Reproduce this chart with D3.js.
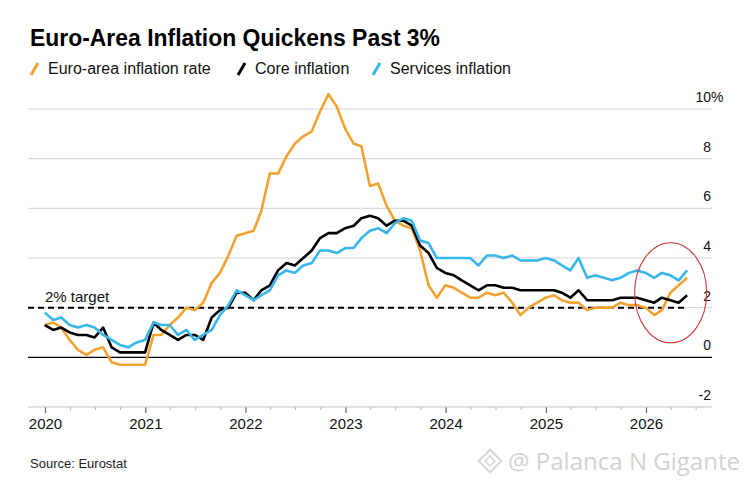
<!DOCTYPE html>
<html>
<head>
<meta charset="utf-8">
<script src="https://cdn.jsdelivr.net/npm/d3@7"></script>
<style>
	body { margin: 0; background: #fff; }
	svg { display: block; font-family: 'Liberation Sans', Arial, sans-serif; }
</style>
</head>
<body>
<div class="chart"></div>
<script>
const WIDTH = 747;
const HEIGHT = 484;
const PLOT = { left: 28, right: 712, top: 109, zero: 357.3, bottom: 407 };

// monthly readings, Dec 2019 .. May 2026 (plotted at month end)
const START_MONTH = new Date(2019, 11, 1);

const headline = [
	1.3, 1.4, 1.2, 0.7, 0.3, 0.1, 0.3, 0.4, -0.2, -0.3, -0.3, -0.3, -0.3,
	0.9, 0.9, 1.3, 1.6, 2.0, 1.9, 2.2, 3.0, 3.4, 4.1, 4.9, 5.0,
	5.1, 5.9, 7.4, 7.4, 8.1, 8.6, 8.9, 9.1, 9.9, 10.6, 10.1, 9.2,
	8.6, 8.5, 6.9, 7.0, 6.1, 5.5, 5.3, 5.2, 4.3, 2.9, 2.4, 2.9,
	2.8, 2.6, 2.4, 2.4, 2.6, 2.5, 2.6, 2.2, 1.7, 2.0, 2.2, 2.4,
	2.5, 2.3, 2.2, 2.2, 1.9, 2.0, 2.0, 2.0, 2.2, 2.1, 2.1, 2.0,
	1.7, 1.9, 2.6, 2.9, 3.2
];

const core = [
	1.3, 1.1, 1.2, 1.0, 0.9, 0.9, 0.8, 1.2, 0.4, 0.2, 0.2, 0.2, 0.2,
	1.4, 1.1, 0.9, 0.7, 0.9, 0.9, 0.7, 1.6, 1.9, 2.0, 2.6, 2.6,
	2.3, 2.7, 2.9, 3.5, 3.8, 3.7, 4.0, 4.3, 4.8, 5.0, 5.0, 5.2,
	5.3, 5.6, 5.7, 5.6, 5.3, 5.5, 5.5, 5.3, 4.5, 4.2, 3.6, 3.4,
	3.3, 3.1, 2.9, 2.7, 2.9, 2.9, 2.8, 2.8, 2.7, 2.7, 2.7, 2.7,
	2.7, 2.6, 2.4, 2.7, 2.3, 2.3, 2.3, 2.3, 2.4, 2.4, 2.4, 2.3,
	2.2, 2.4, 2.3, 2.2, 2.5
];

const services = [
	1.8, 1.5, 1.6, 1.3, 1.2, 1.3, 1.2, 0.9, 0.7, 0.5, 0.4, 0.6, 0.7,
	1.4, 1.3, 1.3, 0.9, 1.1, 0.7, 0.9, 1.1, 1.7, 2.1, 2.7, 2.5,
	2.3, 2.5, 2.7, 3.3, 3.5, 3.4, 3.7, 3.8, 4.3, 4.3, 4.2, 4.4,
	4.4, 4.8, 5.1, 5.2, 5.0, 5.4, 5.6, 5.5, 4.7, 4.6, 4.0, 4.0,
	4.0, 4.0, 4.0, 3.7, 4.1, 4.1, 4.0, 4.1, 3.9, 3.9, 3.9, 4.0,
	3.9, 3.7, 3.5, 4.0, 3.2, 3.3, 3.2, 3.1, 3.2, 3.4, 3.5, 3.4,
	3.2, 3.4, 3.3, 3.1, 3.5
];

const seriesNames = ['Euro-area inflation rate', 'Core inflation', 'Services inflation'];
const seriesColors = ['#f2a230', '#000000', '#36b6ea'];
const yTicks = [-2, 0, 2, 4, 6, 8, 10];
const xYears = [2020, 2021, 2022, 2023, 2024, 2025, 2026];
const TARGET = 2;

const svg = d3
	.select('.chart')
	.append('svg')
	.attr('width', WIDTH)
	.attr('height', HEIGHT);

drawChart();

function drawChart() {
	const x = d3
		.scaleTime()
		.domain([new Date(2020, 0, 1), new Date(2026, 0, 1)])
		.range([45, 646]);

	const y = d3
		.scaleLinear()
		.domain([0, 10])
		.range([PLOT.zero, PLOT.top]);

	const monthEnd = i => new Date(START_MONTH.getFullYear(), START_MONTH.getMonth() + i + 1, 0);

	const series = [headline, core, services].map(function(vals, k) {
		return {
			name: seriesNames[k],
			color: seriesColors[k],
			points: vals.map((v, i) => ({ date: monthEnd(i), value: v }))
		};
	});

	// title + legend
	svg.append('text')
		.attr('x', 30)
		.attr('y', 46)
		.attr('textLength', 410)
		.attr('lengthAdjust', 'spacingAndGlyphs')
		.style('font-size', '23px')
		.style('font-weight', 'bold')
		.style('fill', '#000')
		.text('Euro-Area Inflation Quickens Past 3%');

	const legendX = [30, 237, 372];
	const legend = svg
		.selectAll('.legend')
		.data(series)
		.enter()
		.append('g')
		.attr('class', 'legend')
		.attr('transform', (d, i) => `translate(${legendX[i]}, 0)`);

	legend.append('line')
		.attr('x1', 1)
		.attr('y1', 75)
		.attr('x2', 8)
		.attr('y2', 63)
		.attr('stroke', d => d.color)
		.attr('stroke-width', 3);

	legend.append('text')
		.attr('x', 18)
		.attr('y', 74)
		.style('font-size', '16px')
		.style('fill', '#111')
		.text(d => d.name);

	// gridlines
	svg.selectAll('.grid')
		.data(yTicks.filter(t => t > 0))
		.enter()
		.append('line')
		.attr('class', 'grid')
		.attr('x1', PLOT.left)
		.attr('x2', PLOT.right)
		.attr('y1', d => y(d))
		.attr('y2', d => y(d))
		.attr('stroke', '#d4d4d4')
		.attr('stroke-width', 1);

	// y labels on the right, sitting above their line
	svg.selectAll('.ylab')
		.data(yTicks)
		.enter()
		.append('text')
		.attr('class', 'ylab')
		.attr('x', PLOT.right - 1)
		.attr('y', d => y(d) - 7)
		.attr('text-anchor', 'end')
		.style('font-size', '14px')
		.style('fill', '#111')
		.text(d => d);

	svg.append('text')
		.attr('x', PLOT.right - 1)
		.attr('y', y(10) - 7)
		.style('font-size', '14px')
		.style('fill', '#111')
		.text('%');

	// x axis
	const minor = d3
		.timeMonth
		.every(3)
		.range(new Date(2019, 9, 1), new Date(2026, 9, 1))
		.filter(d => d.getMonth() !== 0 && x(d) > PLOT.left && x(d) < PLOT.right);

	svg.append('g')
		.attr('transform', `translate(0, ${PLOT.bottom})`)
		.call(d3.axisBottom(x).tickValues(minor).tickSize(3).tickFormat(''))
		.call(g => g.select('.domain').remove())
		.call(g => g.selectAll('line').attr('stroke', '#b5b5b5'));

	const xAxis = svg.append('g')
		.attr('id', 'x-axis')
		.attr('transform', `translate(0, ${PLOT.bottom})`)
		.call(
			d3.axisBottom(x)
				.tickValues(xYears.map(yr => new Date(yr, 0, 1)))
				.tickSize(6)
				.tickPadding(5)
				.tickFormat(d3.timeFormat('%Y'))
		);
	xAxis.select('.domain').remove();
	xAxis.selectAll('line').attr('stroke', '#666').attr('stroke-width', 1.2);
	xAxis.selectAll('text')
		.style('font-family', "'Liberation Sans', Arial, sans-serif")
		.style('font-size', '15px')
		.style('fill', '#111');

	svg.append('line')
		.attr('x1', PLOT.left)
		.attr('x2', PLOT.right)
		.attr('y1', y(-2))
		.attr('y2', y(-2))
		.attr('stroke', '#c4c4c4')
		.attr('stroke-width', 1);

	svg.append('line')
		.attr('x1', PLOT.left)
		.attr('x2', PLOT.right)
		.attr('y1', y(0))
		.attr('y2', y(0))
		.attr('stroke', '#000')
		.attr('stroke-width', 1.3);

	// 2% target
	const lastDate = series[0].points[series[0].points.length - 1].date;
	svg.append('line')
		.attr('x1', PLOT.left)
		.attr('x2', x(lastDate))
		.attr('y1', y(TARGET))
		.attr('y2', y(TARGET))
		.attr('stroke', '#000')
		.attr('stroke-width', 2)
		.attr('stroke-dasharray', '6,4');

	svg.append('text')
		.attr('x', 45)
		.attr('y', y(TARGET) - 6)
		.style('font-size', '15px')
		.style('fill', '#111')
		.text('2% target');

	// the lines
	const line = d3
		.line()
		.x(d => x(d.date))
		.y(d => y(d.value));

	svg.selectAll('.series')
		.data(series)
		.enter()
		.append('path')
		.attr('class', 'series')
		.attr('d', d => line(d.points))
		.attr('fill', 'none')
		.attr('stroke', d => d.color)
		.attr('stroke-width', 2.6)
		.attr('stroke-linejoin', 'round');

	// red ring round the latest months
	svg.append('ellipse')
		.attr('cx', x(new Date(2026, 3, 1)))
		.attr('cy', y(2.6))
		.attr('rx', 36)
		.attr('ry', 50)
		.attr('fill', 'none')
		.attr('stroke', '#d23a3a')
		.attr('stroke-width', 1.1);

	// footer
	svg.append('text')
		.attr('x', 30)
		.attr('y', 468)
		.style('font-size', '13px')
		.style('fill', '#222')
		.text('Source: Eurostat');

	const mark = svg.append('g').attr('transform', 'translate(490, 461)');
	mark.append('rect')
		.attr('x', -8)
		.attr('y', -8)
		.attr('width', 16)
		.attr('height', 16)
		.attr('transform', 'rotate(45)')
		.attr('fill', 'none')
		.attr('stroke', '#d6d6d6')
		.attr('stroke-width', 2);
	mark.append('rect')
		.attr('x', -3.5)
		.attr('y', -3.5)
		.attr('width', 7)
		.attr('height', 7)
		.attr('transform', 'rotate(45)')
		.attr('fill', 'none')
		.attr('stroke', '#d6d6d6')
		.attr('stroke-width', 1.5);

	svg.append('text')
		.attr('x', 508)
		.attr('y', 470)
		.attr('textLength', 232)
		.attr('lengthAdjust', 'spacingAndGlyphs')
		.style('font-family', "'Open Sans', 'Liberation Sans', sans-serif")
		.style('font-size', '23px')
		.style('fill', '#d2d2d2')
		.text('@ Palanca N Gigante');
}
</script>
</body>
</html>
